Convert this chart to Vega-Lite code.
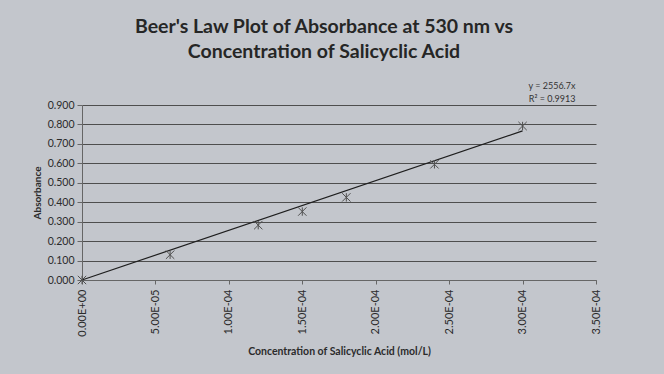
{
  "$schema": "https://vega.github.io/schema/vega-lite/v6.json",
  "width": 514,
  "height": 175,
  "autosize": {"type": "none"},
  "padding": {"left": 82, "top": 105, "right": 68, "bottom": 94},
  "background": "#c3c6cc",
  "config": {
    "font": "Lato",
    "view": {"stroke": null},
    "axis": {"labelColor": "#2b2b2b", "titleColor": "#2b2b2b", "labelFont": "Lato", "titleFont": "Lato"}
  },
  "title": {
    "text": ["Beer's Law Plot of Absorbance at 530 nm vs", "Concentration of Salicyclic Acid"],
    "fontSize": 19.5,
    "fontWeight": "bold",
    "color": "#262626",
    "anchor": "middle",
    "dx": -15,
    "lineHeight": 25,
    "offset": 19
  },
  "datasets": {
    "points": [
      {"conc": 0, "abs": 0},
      {"conc": 0.00006, "abs": 0.13},
      {"conc": 0.00012, "abs": 0.282},
      {"conc": 0.00015, "abs": 0.352},
      {"conc": 0.00018, "abs": 0.425},
      {"conc": 0.00024, "abs": 0.595},
      {"conc": 0.0003, "abs": 0.792}
    ],
    "trend": [
      {"conc": 0, "abs": 0},
      {"conc": 0.0003, "abs": 0.767}
    ],
    "eq": [
      {"conc": 0.000336, "abs": 1.0, "label": "y = 2556.7x"},
      {"conc": 0.000336, "abs": 0.93, "label": "R² = 0.9913"}
    ]
  },
  "encoding": {
    "x": {
      "field": "conc", "type": "quantitative",
      "scale": {"domain": [0, 0.00035], "nice": false, "zero": true},
      "axis": {
        "title": "Concentration of Salicyclic Acid (mol/L)",
        "titleFontSize": 10.5, "titleFontWeight": "bold", "titlePadding": 10,
        "values": [0, 0.00005, 0.0001, 0.00015, 0.0002, 0.00025, 0.0003, 0.00035],
        "labelExpr": "replace(replace(format(datum.value, '.2e'), 'e-', 'E-0'), 'e+', 'E+0')",
        "labelAngle": 270, "labelAlign": "right", "labelBaseline": "middle",
        "labelFontSize": 11, "labelPadding": 5, "labelOverlap": false,
        "grid": false, "domainColor": "#666", "tickColor": "#666", "tickSize": 4
      }
    },
    "y": {
      "field": "abs", "type": "quantitative",
      "scale": {"domain": [0, 0.9], "nice": false},
      "axis": {
        "title": "Absorbance", "titleFontSize": 10, "titleFontWeight": "bold", "titlePadding": 5,
        "values": [0, 0.1, 0.2, 0.3, 0.4, 0.5, 0.6, 0.7, 0.8, 0.9],
        "format": ".3f", "labelFontSize": 10.5, "labelPadding": 3, "labelOverlap": false,
        "grid": true, "gridColor": "#4e4e4e", "gridWidth": 1,
        "domain": true, "domainColor": "#666", "tickColor": "#666", "tickSize": 5
      }
    }
  },
  "layer": [
    {
      "data": {"name": "trend"},
      "mark": {"type": "line", "color": "#1e1e1e", "strokeWidth": 1.2}
    },
    {
      "data": {"name": "points"},
      "mark": {"type": "point", "shape": "M-1,-1L1,1M-1,1L1,-1M0,-1L0,1", "size": 70, "strokeWidth": 1, "color": "#505050", "filled": false, "opacity": 1}
    },
    {
      "data": {"name": "eq"},
      "mark": {"type": "text", "align": "right", "baseline": "middle", "fontSize": 9, "color": "#333"},
      "encoding": {
        "text": {"field": "label"}
      }
    }
  ]
}
